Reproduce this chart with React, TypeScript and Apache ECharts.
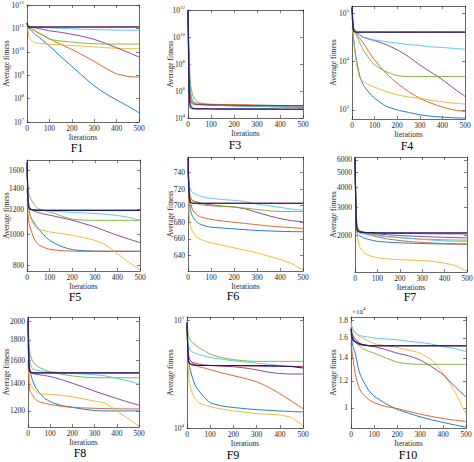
import React, { useEffect, useRef } from "react";
import * as echarts from "echarts";

// Iterations at which each convergence curve is sampled
const ITERS = [0, 5, 10, 20, 35, 50, 75, 100, 150, 200, 250, 300, 350, 400, 450, 500];

// Line colours, in the order the curves of every panel are listed
const COLORS = ["#0072BD", "#D95319", "#EDB120", "#7E2F8E", "#77AC30", "#4DBEEE", "#A2142F", "#1B1B70"];

// Average fitness per curve (rows follow COLORS order)
const F1 = [
  [1.6e11, 1.1e11, 1.0e11, 8.0e10, 5.6e10, 4.5e10, 2.8e10, 1.8e10, 6.3e9, 2.4e9, 9.0e8, 3.5e8, 1.66e8, 8.7e7, 4.8e7, 2.5e7],
  [1.6e11, 1.26e11, 1.12e11, 1.0e11, 7.9e10, 6.3e10, 4.8e10, 3.6e10, 2.1e10, 1.26e10, 7.1e9, 3.9e9, 2.0e9, 1.15e9, 8.9e8, 8.3e8],
  [1.6e11, 8.0e10, 4.0e10, 3.0e10, 2.5e10, 2.3e10, 2.2e10, 2.1e10, 2.0e10, 1.86e10, 1.74e10, 1.62e10, 1.5e10, 1.41e10, 1.38e10, 1.35e10],
  [1.6e11, 1.26e11, 1.2e11, 1.12e11, 1.05e11, 1.0e11, 8.9e10, 7.9e10, 6.8e10, 5.6e10, 4.5e10, 3.4e10, 2.3e10, 1.5e10, 9.5e9, 6.0e9],
  [1.6e11, 1.26e11, 1.12e11, 9.5e10, 7.9e10, 6.6e10, 5.0e10, 3.5e10, 2.9e10, 2.6e10, 2.35e10, 2.2e10, 2.15e10, 2.14e10, 2.14e10, 2.14e10],
  [1.6e11, 1.26e11, 1.18e11, 1.15e11, 1.12e11, 1.1e11, 1.08e11, 1.05e11, 1.0e11, 9.6e10, 9.2e10, 8.9e10, 8.7e10, 8.5e10, 8.4e10, 8.3e10],
  [1.6e11, 1.2e11, 1.16e11, 1.15e11, 1.15e11, 1.15e11, 1.15e11, 1.15e11, 1.15e11, 1.15e11, 1.15e11, 1.15e11, 1.15e11, 1.15e11, 1.15e11, 1.15e11],
  [1.7e11, 1.2e11, 1.16e11, 1.15e11, 1.15e11, 1.15e11, 1.15e11, 1.15e11, 1.15e11, 1.15e11, 1.15e11, 1.15e11, 1.15e11, 1.15e11, 1.15e11, 1.15e11],
];
const F3 = [
  [1e12, 3.2e7, 6.3e5, 1.4e5, 1.12e5, 1.0e5, 9.3e4, 8.9e4, 8.3e4, 7.9e4, 7.6e4, 7.2e4, 6.9e4, 6.6e4, 6.3e4, 6.0e4],
  [1e12, 5e7, 8e5, 1.6e5, 1.25e5, 1.15e5, 1.08e5, 1.04e5, 1.0e5, 9.6e4, 9.3e4, 9.0e4, 8.7e4, 8.5e4, 8.3e4, 8.1e4],
  [1e11, 1e7, 5e5, 1.5e5, 1.2e5, 1.1e5, 1.04e5, 1.0e5, 9.5e4, 9.1e4, 8.7e4, 8.3e4, 8.0e4, 7.7e4, 7.5e4, 7.3e4],
  [1e12, 3e6, 1.2e5, 5.5e4, 5.0e4, 4.9e4, 4.9e4, 4.85e4, 4.8e4, 4.8e4, 4.75e4, 4.7e4, 4.7e4, 4.65e4, 4.6e4, 4.6e4],
  [1e12, 3e8, 5e6, 5e5, 2e5, 1.4e5, 1.1e5, 1.0e5, 9.0e4, 8.3e4, 7.8e4, 7.4e4, 7.1e4, 6.9e4, 6.7e4, 6.6e4],
  [1e12, 8e7, 1.5e6, 2e5, 1.3e5, 1.1e5, 9.8e4, 9.3e4, 8.7e4, 8.2e4, 7.8e4, 7.4e4, 7.1e4, 6.8e4, 6.6e4, 6.4e4],
  [1e12, 5e6, 2e5, 1.1e5, 1.0e5, 9.8e4, 9.6e4, 9.4e4, 9.2e4, 9.0e4, 8.8e4, 8.6e4, 8.5e4, 8.4e4, 8.3e4, 8.2e4],
  [1e12, 1e6, 6e4, 5e4, 4.8e4, 4.7e4, 4.7e4, 4.65e4, 4.6e4, 4.6e4, 4.55e4, 4.5e4, 4.5e4, 4.45e4, 4.45e4, 4.4e4],
];
const F4 = [
  [1.26e5, 4e4, 2.24e4, 1.07e4, 4.9e3, 3.3e3, 2.3e3, 1.74e3, 1.2e3, 1.0e3, 890, 795, 740, 710, 690, 675],
  [8e4, 5.6e4, 4.5e4, 3.8e4, 2.95e4, 2.4e4, 1.58e4, 1.07e4, 5.75e3, 3.55e3, 2.4e3, 1.74e3, 1.38e3, 1.15e3, 1.0e3, 930],
  [5e4, 3.55e4, 2e4, 8.9e3, 4.5e3, 3.9e3, 3.3e3, 2.95e3, 2.4e3, 2.05e3, 1.86e3, 1.74e3, 1.58e3, 1.48e3, 1.38e3, 1.32e3],
  [1.26e5, 5.6e4, 4.5e4, 4.07e4, 3.55e4, 3.16e4, 2.9e4, 2.7e4, 2.24e4, 1.74e4, 1.26e4, 8.5e3, 6.0e3, 4.2e3, 2.8e3, 1.9e3],
  [8e4, 5.5e4, 4.5e4, 3.5e4, 2.4e4, 1.74e4, 1.17e4, 8.5e3, 6.2e3, 5.1e3, 4.9e3, 4.9e3, 4.9e3, 4.9e3, 4.9e3, 4.9e3],
  [1.26e5, 5e4, 4.2e4, 4.0e4, 3.55e4, 3.24e4, 2.95e4, 2.8e4, 2.57e4, 2.4e4, 2.24e4, 2.14e4, 2.0e4, 1.95e4, 1.86e4, 1.8e4],
  [1.3e5, 5e4, 4.2e4, 4.05e4, 4.05e4, 4.05e4, 4.05e4, 4.05e4, 4.05e4, 4.05e4, 4.05e4, 4.05e4, 4.05e4, 4.05e4, 4.05e4, 4.05e4],
  [1.35e5, 5e4, 4.1e4, 4.05e4, 4.05e4, 4.05e4, 4.05e4, 4.05e4, 4.05e4, 4.05e4, 4.05e4, 4.05e4, 4.05e4, 4.05e4, 4.05e4, 4.05e4],
];
const F5 = [
  [1400, 1250, 1180, 1125, 1080, 1045, 995, 959, 918, 896, 889, 886, 885, 885, 885, 885],
  [1250, 1150, 1080, 1020, 960, 931, 910, 898, 890, 886, 885, 885, 885, 885, 885, 885],
  [1300, 1220, 1170, 1110, 1060, 1040, 1030, 1020, 1008, 995, 978, 959, 925, 870, 818, 772],
  [1650, 1300, 1230, 1200, 1185, 1175, 1163, 1153, 1132, 1111, 1085, 1058, 1025, 995, 968, 943],
  [1650, 1400, 1330, 1287, 1235, 1210, 1195, 1180, 1148, 1120, 1112, 1110, 1110, 1110, 1110, 1110],
  [1650, 1280, 1220, 1205, 1200, 1197, 1193, 1190, 1183, 1177, 1172, 1167, 1160, 1150, 1135, 1110],
  [1700, 1250, 1210, 1200, 1198, 1196, 1195, 1195, 1195, 1195, 1195, 1195, 1195, 1195, 1195, 1195],
  [1700, 1260, 1215, 1200, 1197, 1195, 1195, 1195, 1195, 1195, 1195, 1195, 1195, 1195, 1195, 1195],
];
const F6 = [
  [750, 712, 695, 687, 681, 678, 675.5, 674, 673, 672, 671, 670, 669.5, 669, 668.7, 668.5],
  [745, 722, 705, 695, 690, 687, 685, 683.5, 681.5, 680, 678.5, 677, 675.5, 674.5, 673.5, 672.5],
  [740, 690, 677, 669, 663, 660, 657, 655, 652, 649, 646, 643, 639, 635, 630, 622],
  [745, 715, 709, 706, 705, 703.5, 702, 701, 699.5, 698.5, 696, 692, 688, 684.5, 682, 680.5],
  [745, 720, 712, 706, 703, 701.5, 700.5, 700, 699, 698.5, 697, 695.5, 694, 693, 693, 693],
  [755, 725, 720, 716, 714, 712, 710, 709, 707.5, 706.5, 705, 702, 700, 698, 696, 694.5],
  [757, 710, 704, 703, 703, 703, 703, 703, 703, 703, 703, 703, 703, 703, 703, 703],
  [758, 712, 705, 703, 703, 703, 703, 703, 703, 703, 703, 703, 703, 703, 703, 703],
];
const F7 = [
  [6200, 2400, 2050, 1980, 1940, 1900, 1860, 1830, 1805, 1790, 1780, 1770, 1765, 1760, 1760, 1760],
  [6200, 2600, 2200, 2120, 2080, 2040, 1990, 1950, 1890, 1850, 1820, 1800, 1785, 1770, 1760, 1750],
  [6200, 3000, 2000, 1700, 1580, 1520, 1470, 1440, 1415, 1400, 1390, 1380, 1365, 1330, 1280, 1180],
  [6200, 2700, 2200, 2130, 2100, 2080, 2060, 2040, 2010, 1990, 1975, 1960, 1950, 1940, 1930, 1920],
  [6200, 3000, 2300, 2150, 2100, 2060, 2030, 2000, 1960, 1930, 1910, 1890, 1880, 1870, 1865, 1860],
  [6200, 2500, 2150, 2070, 2040, 2020, 2000, 1980, 1955, 1930, 1905, 1880, 1860, 1840, 1830, 1820],
  [6200, 2500, 2150, 2090, 2075, 2070, 2065, 2060, 2055, 2050, 2048, 2045, 2043, 2040, 2040, 2040],
  [6200, 2500, 2150, 2100, 2085, 2080, 2075, 2070, 2070, 2070, 2070, 2070, 2070, 2070, 2070, 2070],
];
const F8 = [
  [1750, 1560, 1500, 1430, 1370, 1335, 1290, 1265, 1238, 1225, 1212, 1203, 1200, 1200, 1200, 1200],
  [1600, 1400, 1340, 1313, 1280, 1265, 1254, 1245, 1233, 1225, 1221, 1218, 1216, 1215, 1214, 1214],
  [1800, 1480, 1400, 1370, 1340, 1324, 1320, 1318, 1312, 1300, 1285, 1269, 1253, 1200, 1150, 1100],
  [2000, 1550, 1510, 1487, 1480, 1475, 1468, 1460, 1435, 1405, 1375, 1343, 1315, 1288, 1263, 1240],
  [2030, 1750, 1650, 1600, 1560, 1540, 1518, 1500, 1480, 1465, 1455, 1450, 1450, 1450, 1450, 1450],
  [2000, 1650, 1570, 1530, 1515, 1510, 1505, 1500, 1494, 1487, 1481, 1475, 1465, 1445, 1425, 1400],
  [2000, 1520, 1495, 1490, 1490, 1490, 1490, 1490, 1490, 1490, 1490, 1490, 1490, 1490, 1490, 1490],
  [2040, 1530, 1500, 1490, 1490, 1490, 1490, 1490, 1490, 1490, 1490, 1490, 1490, 1490, 1490, 1490],
];
const F9 = [
  [9e4, 4.5e4, 3.8e4, 3.1e4, 2.5e4, 2.23e4, 1.92e4, 1.72e4, 1.6e4, 1.55e4, 1.51e4, 1.48e4, 1.46e4, 1.44e4, 1.42e4, 1.41e4],
  [9e4, 5e4, 4.4e4, 4.1e4, 3.85e4, 3.7e4, 3.6e4, 3.47e4, 3.25e4, 3.06e4, 2.88e4, 2.68e4, 2.4e4, 2.08e4, 1.78e4, 1.51e4],
  [9e4, 3.6e4, 2.72e4, 2.17e4, 1.88e4, 1.72e4, 1.64e4, 1.57e4, 1.5e4, 1.44e4, 1.4e4, 1.36e4, 1.34e4, 1.32e4, 1.25e4, 1.05e4],
  [9e4, 5e4, 4.4e4, 4.07e4, 4.0e4, 3.92e4, 3.85e4, 3.8e4, 3.75e4, 3.7e4, 3.6e4, 3.46e4, 3.3e4, 3.2e4, 3.17e4, 3.17e4],
  [1e5, 7.5e4, 6.8e4, 6.3e4, 5.9e4, 5.57e4, 5.2e4, 4.84e4, 4.5e4, 4.3e4, 4.2e4, 4.15e4, 4.15e4, 4.15e4, 4.15e4, 4.15e4],
  [9.5e4, 6e4, 5.5e4, 5.1e4, 4.95e4, 4.8e4, 4.65e4, 4.5e4, 4.35e4, 4.2e4, 4.1e4, 4.0e4, 3.9e4, 3.8e4, 3.75e4, 3.7e4],
  [9.5e4, 4.2e4, 4.0e4, 3.9e4, 3.85e4, 3.82e4, 3.8e4, 3.8e4, 3.78e4, 3.77e4, 3.76e4, 3.75e4, 3.74e4, 3.73e4, 3.72e4, 3.7e4],
  [9.5e4, 4.5e4, 4.0e4, 3.86e4, 3.82e4, 3.8e4, 3.8e4, 3.8e4, 3.8e4, 3.8e4, 3.8e4, 3.8e4, 3.78e4, 3.76e4, 3.72e4, 3.6e4],
];
const F10 = [
  [1.65e4, 1.55e4, 1.5e4, 1.43e4, 1.28e4, 1.21e4, 1.13e4, 1.083e4, 1.03e4, 9910, 9650, 9420, 9230, 9070, 8920, 8780],
  [1.55e4, 1.45e4, 1.37e4, 1.24e4, 1.145e4, 1.1e4, 1.06e4, 1.036e4, 1.01e4, 9955, 9770, 9590, 9440, 9310, 9210, 9130],
  [1.78e4, 1.7e4, 1.68e4, 1.65e4, 1.62e4, 1.6e4, 1.57e4, 1.54e4, 1.52e4, 1.5e4, 1.475e4, 1.445e4, 1.38e4, 1.264e4, 1.12e4, 9600],
  [1.72e4, 1.65e4, 1.62e4, 1.585e4, 1.55e4, 1.53e4, 1.52e4, 1.51e4, 1.48e4, 1.445e4, 1.42e4, 1.38e4, 1.32e4, 1.25e4, 1.157e4, 1.076e4],
  [1.7e4, 1.63e4, 1.6e4, 1.56e4, 1.52e4, 1.49e4, 1.465e4, 1.445e4, 1.4e4, 1.36e4, 1.345e4, 1.34e4, 1.34e4, 1.34e4, 1.34e4, 1.34e4],
  [1.78e4, 1.72e4, 1.69e4, 1.65e4, 1.63e4, 1.62e4, 1.61e4, 1.6e4, 1.59e4, 1.58e4, 1.565e4, 1.553e4, 1.535e4, 1.51e4, 1.49e4, 1.46e4],
  [1.7e4, 1.62e4, 1.58e4, 1.55e4, 1.53e4, 1.525e4, 1.52e4, 1.52e4, 1.52e4, 1.52e4, 1.52e4, 1.52e4, 1.52e4, 1.52e4, 1.52e4, 1.52e4],
  [1.7e4, 1.6e4, 1.57e4, 1.56e4, 1.54e4, 1.53e4, 1.52e4, 1.517e4, 1.517e4, 1.517e4, 1.517e4, 1.517e4, 1.517e4, 1.517e4, 1.517e4, 1.517e4],
];

// Tick values of each y axis
const X_TICKS = [0, 100, 200, 300, 400, 500];
const F1_TICKS = [1e7, 1e8, 1e9, 1e10, 1e11, 1e12];
const F3_TICKS = [1e4, 1e6, 1e8, 1e10, 1e12];
const F4_TICKS = [1e3, 1e4, 1e5];
const F5_TICKS = [800, 1000, 1200, 1400, 1600];
const F6_TICKS = [640, 660, 680, 700, 720, 740];
const F7_TICKS = [2000, 3000, 4000, 5000, 6000];
const F8_TICKS = [1200, 1400, 1600, 1800, 2000];
const F9_TICKS = [1e4, 1e5];
const F10_TICKS = [10000, 12000, 14000, 16000, 18000];

const FONT = "'Liberation Serif', 'DejaVu Serif', serif";
const INK = "#262626";

const powLabel = (v: number) => `10{s|${Math.round(Math.log10(v))}}`;
const plainLabel = (v: number) => String(Math.round(v));
const scaledLabel = (v: number) => String(+(v / 1e4).toFixed(1));

type Panel = {
  title: string;
  lines: number[][];
  ticks: number[];
  log: boolean;
  min: number;
  max: number;
  fmt: (v: number) => string;
  box: [number, number, number, number]; // left, top, width, height
  yGap: number;
  xGap: number;
  titlePos: [number, number];
};

const PANELS: Panel[] = [
  { title: "F1", lines: F1, ticks: F1_TICKS, log: true, min: 1e7, max: 1e12, fmt: powLabel, box: [27, 5, 112, 117], yGap: 17, xGap: 11, titlePos: [77, 148] },
  { title: "F3", lines: F3, ticks: F3_TICKS, log: true, min: 1e4, max: 1e12, fmt: powLabel, box: [188, 10, 115, 108], yGap: 14, xGap: 11, titlePos: [235, 145] },
  { title: "F4", lines: F4, ticks: F4_TICKS, log: true, min: 650, max: 1.4e5, fmt: powLabel, box: [352, 6, 113, 113], yGap: 15, xGap: 11, titlePos: [407, 146] },
  { title: "F5", lines: F5, ticks: F5_TICKS, log: true, min: 766, max: 1727, fmt: plainLabel, box: [27, 160, 113, 111], yGap: 17, xGap: 11, titlePos: [75, 297] },
  { title: "F6", lines: F6, ticks: F6_TICKS, log: false, min: 621, max: 759, fmt: plainLabel, box: [188, 157, 115, 114], yGap: 14, xGap: 11, titlePos: [233, 296] },
  { title: "F7", lines: F7, ticks: F7_TICKS, log: true, min: 1170, max: 6250, fmt: plainLabel, box: [355, 157, 112, 115], yGap: 18, xGap: 11, titlePos: [410, 297] },
  { title: "F8", lines: F8, ticks: F8_TICKS, log: true, min: 1095, max: 2050, fmt: plainLabel, box: [28, 317, 111, 110], yGap: 18, xGap: 11, titlePos: [80, 453] },
  { title: "F9", lines: F9, ticks: F9_TICKS, log: true, min: 1e4, max: 1.07e5, fmt: powLabel, box: [187, 317, 116, 111], yGap: 13, xGap: 11, titlePos: [233, 455] },
  { title: "F10", lines: F10, ticks: F10_TICKS, log: true, min: 8735, max: 18420, fmt: scaledLabel, box: [351, 317, 115, 111], yGap: 14, xGap: 11, titlePos: [408, 455] },
];

const axisLine = { show: true, onZero: false, lineStyle: { color: INK, width: 0.7 } };
const tickStyle = { color: INK, width: 0.6 };
const labelText = { fontFamily: FONT, fontSize: 7.5, color: INK };
const supRich = { s: { fontFamily: FONT, fontSize: 5, color: INK, padding: [0, 0, 6, 0] } };

function buildOption() {
  const grid: any[] = [];
  const xAxis: any[] = [];
  const yAxis: any[] = [];
  const series: any[] = [];
  const graphic: any[] = [];

  PANELS.forEach((p, gi) => {
    const [left, top, width, height] = p.box;
    grid.push({ left, top, width, height, containLabel: false, outerBoundsMode: "none", show: false });

    const xBase = {
      type: "value",
      gridIndex: gi,
      min: 0,
      max: 500,
      interval: 100,
      axisLine,
      splitLine: { show: false },
      axisTick: { inside: true, length: 3, lineStyle: tickStyle, customValues: X_TICKS },
    };
    xAxis.push({
      ...xBase,
      position: "bottom",
      name: "Iterations",
      nameLocation: "middle",
      nameGap: p.xGap,
      nameMoveOverlap: false,
      nameTextStyle: { ...labelText },
      axisLabel: { ...labelText, margin: 2, customValues: X_TICKS },
    });
    xAxis.push({ ...xBase, position: "top", axisLabel: { show: false } });

    const yBase = {
      type: p.log ? "log" : "value",
      logBase: 10,
      gridIndex: gi,
      min: p.min,
      max: p.max,
      axisLine,
      splitLine: { show: false },
      axisTick: { inside: true, length: 3, lineStyle: tickStyle, customValues: p.ticks },
    };
    yAxis.push({
      ...yBase,
      position: "left",
      name: "Average fitness",
      nameLocation: "middle",
      nameGap: p.yGap,
      nameMoveOverlap: false,
      nameTextStyle: { ...labelText },
      axisLabel: { ...labelText, margin: 3, customValues: p.ticks, formatter: p.fmt, rich: supRich },
    });
    yAxis.push({ ...yBase, position: "right", axisLabel: { show: false } });

    p.lines.forEach((vals, k) => {
      series.push({
        type: "line",
        xAxisIndex: gi * 2,
        yAxisIndex: gi * 2,
        data: ITERS.map((it, i) => [it, vals[i]]),
        showSymbol: false,
        symbol: "none",
        smooth: 0.2,
        clip: true,
        silent: true,
        color: COLORS[k],
        lineStyle: { color: COLORS[k], width: k === 7 ? 1.2 : 0.9 },
      });
    });

    graphic.push({
      type: "text",
      x: p.titlePos[0],
      y: p.titlePos[1],
      silent: true,
      style: {
        text: p.title,
        fontFamily: FONT,
        fontSize: 12,
        fill: "#000",
        align: "center",
        verticalAlign: "middle",
        textAlign: "center",
        textVerticalAlign: "middle",
      },
    });
  });

  // Exponent marker of the F10 y axis
  graphic.push({
    type: "text",
    x: 352,
    y: 317,
    silent: true,
    style: {
      text: "×10{s|4}",
      fontFamily: FONT,
      fontSize: 7,
      fill: INK,
      align: "left",
      verticalAlign: "bottom",
      textAlign: "left",
      textVerticalAlign: "bottom",
      rich: supRich,
    },
  });

  return {
    animation: false,
    backgroundColor: "#ffffff",
    textStyle: { fontFamily: FONT, color: INK },
    grid,
    xAxis,
    yAxis,
    series,
    graphic,
  };
}

export default function App() {
  const ref = useRef<HTMLDivElement>(null);
  useEffect(() => {
    if (!ref.current) return;
    const chart = echarts.init(ref.current, undefined, { renderer: "svg" });
    chart.setOption(buildOption() as any);
    return () => chart.dispose();
  }, []);
  return (
    <div
      ref={ref}
      style={{ position: "absolute", left: 0, top: 0, width: 474, height: 462, background: "#fff" }}
    />
  );
}
